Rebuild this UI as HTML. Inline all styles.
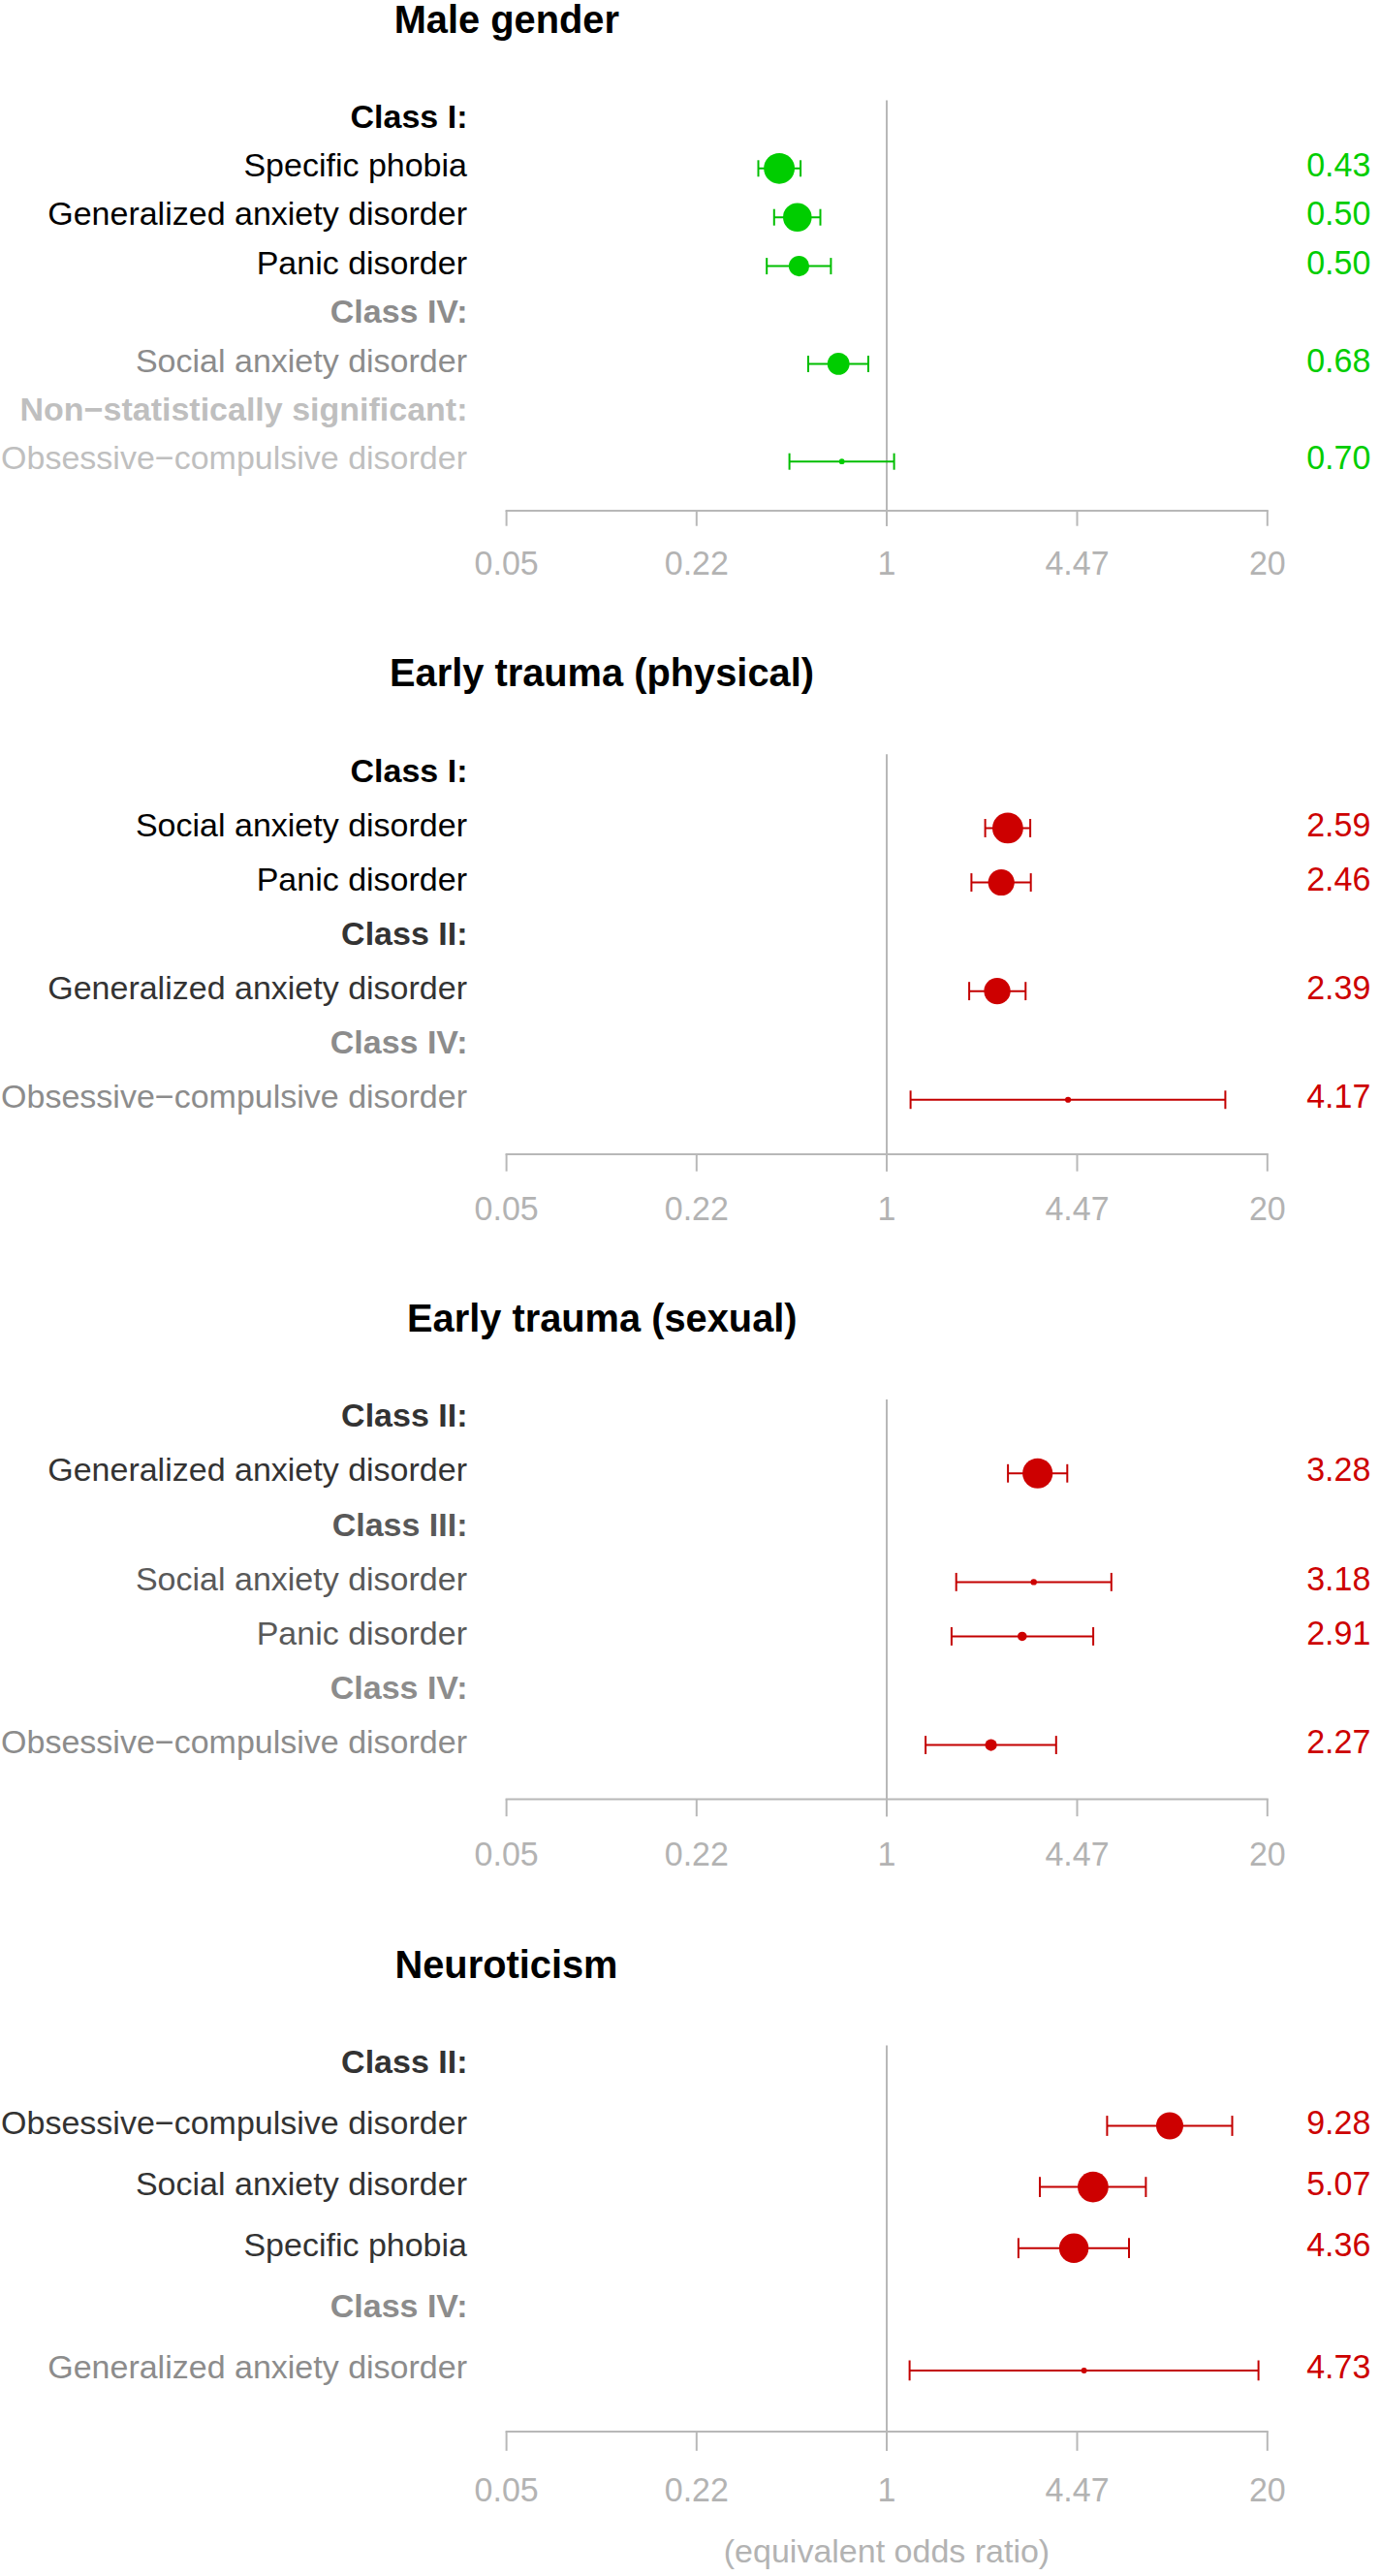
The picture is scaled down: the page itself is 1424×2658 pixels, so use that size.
<!DOCTYPE html>
<html><head><meta charset="utf-8"><title>Forest plot</title>
<style>
html,body{margin:0;padding:0;background:#fff;}
svg{display:block;}
text{font-family:"Liberation Sans",sans-serif;}
.t{font-size:39.8px;font-weight:bold;fill:#000;}
.l{font-size:34.0px;}
.lb{font-size:34.0px;font-weight:bold;}
.xl{font-size:34.0px;fill:#B3B3B3;}
.ax{stroke:#B8B8B8;stroke-width:2;}
</style></head>
<body>
<svg width="1424" height="2658" viewBox="0 0 1424 2658">
<rect width="1424" height="2658" fill="#fff"/>
<text x="522.8" y="33.5" class="t" text-anchor="middle">Male gender</text>
<line x1="915.0" y1="103.5" x2="915.0" y2="542.7" class="ax"/>
<line x1="521.6" y1="526.9" x2="1308.8" y2="526.9" class="ax"/>
<line x1="522.6" y1="526.9" x2="522.6" y2="542.7" class="ax"/>
<text transform="translate(522.6 593) scale(1 1.04)" class="xl" text-anchor="middle">0.05</text>
<line x1="718.8" y1="526.9" x2="718.8" y2="542.7" class="ax"/>
<text transform="translate(718.8 593) scale(1 1.04)" class="xl" text-anchor="middle">0.22</text>
<line x1="915.0" y1="526.9" x2="915.0" y2="542.7" class="ax"/>
<text transform="translate(915.0 593) scale(1 1.04)" class="xl" text-anchor="middle">1</text>
<line x1="1111.5" y1="526.9" x2="1111.5" y2="542.7" class="ax"/>
<text transform="translate(1111.5 593) scale(1 1.04)" class="xl" text-anchor="middle">4.47</text>
<line x1="1307.8" y1="526.9" x2="1307.8" y2="542.7" class="ax"/>
<text transform="translate(1307.8 593) scale(1 1.04)" class="xl" text-anchor="middle">20</text>
<text x="482.5" y="131.6" class="lb" fill="#000000" text-anchor="end">Class I:</text>
<text x="482" y="182" class="l" fill="#000000" text-anchor="end">Specific phobia</text>
<g stroke="#00BE00" stroke-width="2" fill="none"><line x1="782.5" y1="173.8" x2="826.1" y2="173.8"/><line x1="782.5" y1="165.3" x2="782.5" y2="182.3"/><line x1="826.1" y1="165.3" x2="826.1" y2="182.3"/></g>
<circle cx="804.1" cy="173.8" r="15.9" fill="#00CD00"/>
<text transform="translate(1414.3 182) scale(1 1.04)" class="l" fill="#00CD00" text-anchor="end">0.43</text>
<text x="482" y="232.4" class="l" fill="#000000" text-anchor="end">Generalized anxiety disorder</text>
<g stroke="#00BE00" stroke-width="2" fill="none"><line x1="798.8" y1="224.2" x2="846.5" y2="224.2"/><line x1="798.8" y1="215.7" x2="798.8" y2="232.7"/><line x1="846.5" y1="215.7" x2="846.5" y2="232.7"/></g>
<circle cx="822.8" cy="224.2" r="14.8" fill="#00CD00"/>
<text transform="translate(1414.3 232.4) scale(1 1.04)" class="l" fill="#00CD00" text-anchor="end">0.50</text>
<text x="482" y="282.8" class="l" fill="#000000" text-anchor="end">Panic disorder</text>
<g stroke="#00BE00" stroke-width="2" fill="none"><line x1="791.2" y1="274.6" x2="857.4" y2="274.6"/><line x1="791.2" y1="266.1" x2="791.2" y2="283.1"/><line x1="857.4" y1="266.1" x2="857.4" y2="283.1"/></g>
<circle cx="824.5" cy="274.6" r="10.6" fill="#00CD00"/>
<text transform="translate(1414.3 282.8) scale(1 1.04)" class="l" fill="#00CD00" text-anchor="end">0.50</text>
<text x="482.5" y="333.2" class="lb" fill="#8C8C8C" text-anchor="end">Class IV:</text>
<text x="482" y="383.6" class="l" fill="#8C8C8C" text-anchor="end">Social anxiety disorder</text>
<g stroke="#00BE00" stroke-width="2" fill="none"><line x1="834.0" y1="375.4" x2="896.0" y2="375.4"/><line x1="834.0" y1="366.9" x2="834.0" y2="383.9"/><line x1="896.0" y1="366.9" x2="896.0" y2="383.9"/></g>
<circle cx="865.2" cy="375.4" r="11.4" fill="#00CD00"/>
<text transform="translate(1414.3 383.6) scale(1 1.04)" class="l" fill="#00CD00" text-anchor="end">0.68</text>
<text x="482.5" y="434" class="lb" fill="#BFBFBF" text-anchor="end">Non−statistically significant:</text>
<text x="482" y="484.4" class="l" fill="#BFBFBF" text-anchor="end">Obsessive−compulsive disorder</text>
<g stroke="#00BE00" stroke-width="2" fill="none"><line x1="814.6" y1="476.2" x2="922.6" y2="476.2"/><line x1="814.6" y1="467.7" x2="814.6" y2="484.7"/><line x1="922.6" y1="467.7" x2="922.6" y2="484.7"/></g>
<circle cx="868.7" cy="476.2" r="2.9" fill="#00CD00"/>
<text transform="translate(1414.3 484.4) scale(1 1.04)" class="l" fill="#00CD00" text-anchor="end">0.70</text>
<text x="621" y="708.3" class="t" text-anchor="middle">Early trauma (physical)</text>
<line x1="915.0" y1="778.3" x2="915.0" y2="1208.6" class="ax"/>
<line x1="521.6" y1="1190.9" x2="1308.8" y2="1190.9" class="ax"/>
<line x1="522.6" y1="1190.9" x2="522.6" y2="1208.6" class="ax"/>
<text transform="translate(522.6 1259.3) scale(1 1.04)" class="xl" text-anchor="middle">0.05</text>
<line x1="718.8" y1="1190.9" x2="718.8" y2="1208.6" class="ax"/>
<text transform="translate(718.8 1259.3) scale(1 1.04)" class="xl" text-anchor="middle">0.22</text>
<line x1="915.0" y1="1190.9" x2="915.0" y2="1208.6" class="ax"/>
<text transform="translate(915.0 1259.3) scale(1 1.04)" class="xl" text-anchor="middle">1</text>
<line x1="1111.5" y1="1190.9" x2="1111.5" y2="1208.6" class="ax"/>
<text transform="translate(1111.5 1259.3) scale(1 1.04)" class="xl" text-anchor="middle">4.47</text>
<line x1="1307.8" y1="1190.9" x2="1307.8" y2="1208.6" class="ax"/>
<text transform="translate(1307.8 1259.3) scale(1 1.04)" class="xl" text-anchor="middle">20</text>
<text x="482.5" y="806.6" class="lb" fill="#000000" text-anchor="end">Class I:</text>
<text x="482" y="862.66" class="l" fill="#000000" text-anchor="end">Social anxiety disorder</text>
<g stroke="#C30000" stroke-width="2" fill="none"><line x1="1016.6" y1="854.46" x2="1063.1" y2="854.46"/><line x1="1016.6" y1="845.01" x2="1016.6" y2="863.91"/><line x1="1063.1" y1="845.01" x2="1063.1" y2="863.91"/></g>
<circle cx="1039.9" cy="854.46" r="15.9" fill="#CD0000"/>
<text transform="translate(1414.3 862.66) scale(1 1.04)" class="l" fill="#CD0000" text-anchor="end">2.59</text>
<text x="482" y="918.72" class="l" fill="#000000" text-anchor="end">Panic disorder</text>
<g stroke="#C30000" stroke-width="2" fill="none"><line x1="1002.4" y1="910.52" x2="1063.7" y2="910.52"/><line x1="1002.4" y1="901.07" x2="1002.4" y2="919.97"/><line x1="1063.7" y1="901.07" x2="1063.7" y2="919.97"/></g>
<circle cx="1033.2" cy="910.52" r="13.6" fill="#CD0000"/>
<text transform="translate(1414.3 918.72) scale(1 1.04)" class="l" fill="#CD0000" text-anchor="end">2.46</text>
<text x="482.5" y="974.78" class="lb" fill="#333333" text-anchor="end">Class II:</text>
<text x="482" y="1030.84" class="l" fill="#333333" text-anchor="end">Generalized anxiety disorder</text>
<g stroke="#C30000" stroke-width="2" fill="none"><line x1="1000.1" y1="1022.64" x2="1058.3" y2="1022.64"/><line x1="1000.1" y1="1013.19" x2="1000.1" y2="1032.09"/><line x1="1058.3" y1="1013.19" x2="1058.3" y2="1032.09"/></g>
<circle cx="1029.0" cy="1022.64" r="13.7" fill="#CD0000"/>
<text transform="translate(1414.3 1030.84) scale(1 1.04)" class="l" fill="#CD0000" text-anchor="end">2.39</text>
<text x="482.5" y="1086.9" class="lb" fill="#8C8C8C" text-anchor="end">Class IV:</text>
<text x="482" y="1142.96" class="l" fill="#8C8C8C" text-anchor="end">Obsessive−compulsive disorder</text>
<g stroke="#C30000" stroke-width="2" fill="none"><line x1="939.6" y1="1134.76" x2="1264.4" y2="1134.76"/><line x1="939.6" y1="1125.31" x2="939.6" y2="1144.21"/><line x1="1264.4" y1="1125.31" x2="1264.4" y2="1144.21"/></g>
<circle cx="1102.1" cy="1134.76" r="3.1" fill="#CD0000"/>
<text transform="translate(1414.3 1142.96) scale(1 1.04)" class="l" fill="#CD0000" text-anchor="end">4.17</text>
<text x="621.3" y="1374" class="t" text-anchor="middle">Early trauma (sexual)</text>
<line x1="915.0" y1="1444" x2="915.0" y2="1874.2" class="ax"/>
<line x1="521.6" y1="1856.5" x2="1308.8" y2="1856.5" class="ax"/>
<line x1="522.6" y1="1856.5" x2="522.6" y2="1874.2" class="ax"/>
<text transform="translate(522.6 1924.9) scale(1 1.04)" class="xl" text-anchor="middle">0.05</text>
<line x1="718.8" y1="1856.5" x2="718.8" y2="1874.2" class="ax"/>
<text transform="translate(718.8 1924.9) scale(1 1.04)" class="xl" text-anchor="middle">0.22</text>
<line x1="915.0" y1="1856.5" x2="915.0" y2="1874.2" class="ax"/>
<text transform="translate(915.0 1924.9) scale(1 1.04)" class="xl" text-anchor="middle">1</text>
<line x1="1111.5" y1="1856.5" x2="1111.5" y2="1874.2" class="ax"/>
<text transform="translate(1111.5 1924.9) scale(1 1.04)" class="xl" text-anchor="middle">4.47</text>
<line x1="1307.8" y1="1856.5" x2="1307.8" y2="1874.2" class="ax"/>
<text transform="translate(1307.8 1924.9) scale(1 1.04)" class="xl" text-anchor="middle">20</text>
<text x="482.5" y="1472.4" class="lb" fill="#333333" text-anchor="end">Class II:</text>
<text x="482" y="1528.46" class="l" fill="#333333" text-anchor="end">Generalized anxiety disorder</text>
<g stroke="#C30000" stroke-width="2" fill="none"><line x1="1040.1" y1="1520.26" x2="1101.3" y2="1520.26"/><line x1="1040.1" y1="1510.81" x2="1040.1" y2="1529.71"/><line x1="1101.3" y1="1510.81" x2="1101.3" y2="1529.71"/></g>
<circle cx="1070.7" cy="1520.26" r="15.6" fill="#CD0000"/>
<text transform="translate(1414.3 1528.46) scale(1 1.04)" class="l" fill="#CD0000" text-anchor="end">3.28</text>
<text x="482.5" y="1584.52" class="lb" fill="#595959" text-anchor="end">Class III:</text>
<text x="482" y="1640.58" class="l" fill="#595959" text-anchor="end">Social anxiety disorder</text>
<g stroke="#C30000" stroke-width="2" fill="none"><line x1="986.7" y1="1632.38" x2="1146.8" y2="1632.38"/><line x1="986.7" y1="1622.93" x2="986.7" y2="1641.83"/><line x1="1146.8" y1="1622.93" x2="1146.8" y2="1641.83"/></g>
<circle cx="1066.7" cy="1632.38" r="3.2" fill="#CD0000"/>
<text transform="translate(1414.3 1640.58) scale(1 1.04)" class="l" fill="#CD0000" text-anchor="end">3.18</text>
<text x="482" y="1696.64" class="l" fill="#595959" text-anchor="end">Panic disorder</text>
<g stroke="#C30000" stroke-width="2" fill="none"><line x1="981.9" y1="1688.44" x2="1128.1" y2="1688.44"/><line x1="981.9" y1="1678.99" x2="981.9" y2="1697.89"/><line x1="1128.1" y1="1678.99" x2="1128.1" y2="1697.89"/></g>
<circle cx="1054.8" cy="1688.44" r="4.8" fill="#CD0000"/>
<text transform="translate(1414.3 1696.64) scale(1 1.04)" class="l" fill="#CD0000" text-anchor="end">2.91</text>
<text x="482.5" y="1752.7" class="lb" fill="#8C8C8C" text-anchor="end">Class IV:</text>
<text x="482" y="1808.76" class="l" fill="#8C8C8C" text-anchor="end">Obsessive−compulsive disorder</text>
<g stroke="#C30000" stroke-width="2" fill="none"><line x1="955.1" y1="1800.56" x2="1089.8" y2="1800.56"/><line x1="955.1" y1="1791.11" x2="955.1" y2="1810.01"/><line x1="1089.8" y1="1791.11" x2="1089.8" y2="1810.01"/></g>
<circle cx="1022.6" cy="1800.56" r="6.1" fill="#CD0000"/>
<text transform="translate(1414.3 1808.76) scale(1 1.04)" class="l" fill="#CD0000" text-anchor="end">2.27</text>
<text x="522.5" y="2040.5" class="t" text-anchor="middle">Neuroticism</text>
<line x1="915.0" y1="2110.5" x2="915.0" y2="2528.8" class="ax"/>
<line x1="521.6" y1="2509.1" x2="1308.8" y2="2509.1" class="ax"/>
<line x1="522.6" y1="2509.1" x2="522.6" y2="2528.8" class="ax"/>
<text transform="translate(522.6 2581) scale(1 1.04)" class="xl" text-anchor="middle">0.05</text>
<line x1="718.8" y1="2509.1" x2="718.8" y2="2528.8" class="ax"/>
<text transform="translate(718.8 2581) scale(1 1.04)" class="xl" text-anchor="middle">0.22</text>
<line x1="915.0" y1="2509.1" x2="915.0" y2="2528.8" class="ax"/>
<text transform="translate(915.0 2581) scale(1 1.04)" class="xl" text-anchor="middle">1</text>
<line x1="1111.5" y1="2509.1" x2="1111.5" y2="2528.8" class="ax"/>
<text transform="translate(1111.5 2581) scale(1 1.04)" class="xl" text-anchor="middle">4.47</text>
<line x1="1307.8" y1="2509.1" x2="1307.8" y2="2528.8" class="ax"/>
<text transform="translate(1307.8 2581) scale(1 1.04)" class="xl" text-anchor="middle">20</text>
<text x="482.5" y="2138.6" class="lb" fill="#333333" text-anchor="end">Class II:</text>
<text x="482" y="2201.7" class="l" fill="#333333" text-anchor="end">Obsessive−compulsive disorder</text>
<g stroke="#C30000" stroke-width="2" fill="none"><line x1="1142.4" y1="2193.5" x2="1271.5" y2="2193.5"/><line x1="1142.4" y1="2183.1" x2="1142.4" y2="2203.9"/><line x1="1271.5" y1="2183.1" x2="1271.5" y2="2203.9"/></g>
<circle cx="1207.0" cy="2193.5" r="14.0" fill="#CD0000"/>
<text transform="translate(1414.3 2201.7) scale(1 1.04)" class="l" fill="#CD0000" text-anchor="end">9.28</text>
<text x="482" y="2264.8" class="l" fill="#333333" text-anchor="end">Social anxiety disorder</text>
<g stroke="#C30000" stroke-width="2" fill="none"><line x1="1073.0" y1="2256.6" x2="1182.4" y2="2256.6"/><line x1="1073.0" y1="2246.2" x2="1073.0" y2="2267"/><line x1="1182.4" y1="2246.2" x2="1182.4" y2="2267"/></g>
<circle cx="1127.9" cy="2256.6" r="15.85" fill="#CD0000"/>
<text transform="translate(1414.3 2264.8) scale(1 1.04)" class="l" fill="#CD0000" text-anchor="end">5.07</text>
<text x="482" y="2327.9" class="l" fill="#333333" text-anchor="end">Specific phobia</text>
<g stroke="#C30000" stroke-width="2" fill="none"><line x1="1050.9" y1="2319.7" x2="1165.0" y2="2319.7"/><line x1="1050.9" y1="2309.3" x2="1050.9" y2="2330.1"/><line x1="1165.0" y1="2309.3" x2="1165.0" y2="2330.1"/></g>
<circle cx="1108.1" cy="2319.7" r="15.2" fill="#CD0000"/>
<text transform="translate(1414.3 2327.9) scale(1 1.04)" class="l" fill="#CD0000" text-anchor="end">4.36</text>
<text x="482.5" y="2391" class="lb" fill="#8C8C8C" text-anchor="end">Class IV:</text>
<text x="482" y="2454.1" class="l" fill="#8C8C8C" text-anchor="end">Generalized anxiety disorder</text>
<g stroke="#C30000" stroke-width="2" fill="none"><line x1="938.6" y1="2445.9" x2="1298.6" y2="2445.9"/><line x1="938.6" y1="2435.5" x2="938.6" y2="2456.3"/><line x1="1298.6" y1="2435.5" x2="1298.6" y2="2456.3"/></g>
<circle cx="1118.6" cy="2445.9" r="3.0" fill="#CD0000"/>
<text transform="translate(1414.3 2454.1) scale(1 1.04)" class="l" fill="#CD0000" text-anchor="end">4.73</text>
<text x="915.0" y="2643.6" class="xl" text-anchor="middle">(equivalent odds ratio)</text>
</svg>
</body></html>
